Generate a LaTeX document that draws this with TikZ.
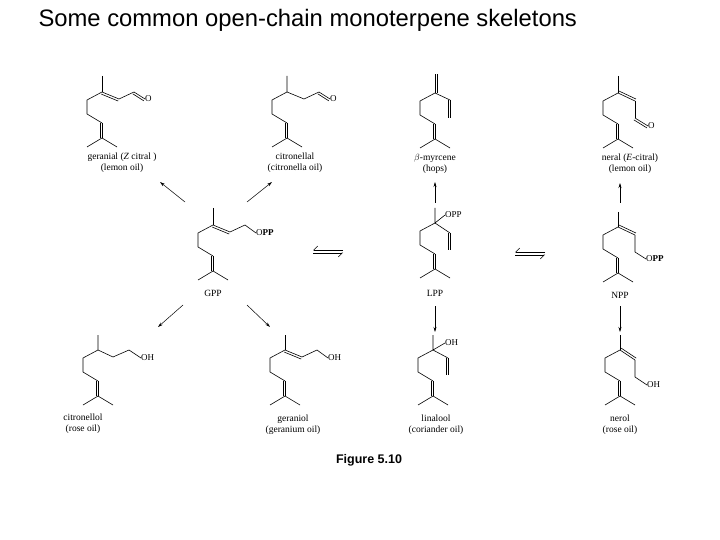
\documentclass[tikz,border=0pt]{standalone}
\usepackage{fontspec}
\setmainfont{Liberation Serif}
\setsansfont{Liberation Sans}
\usetikzlibrary{arrows.meta,calc}

\tikzset{
  bond/.style={line width=0.6pt},
  react/.style={line width=0.5pt, -{Stealth[length=5pt,width=3pt]}},
  harp/.style={line width=0.6pt, -{Straight Barb[harpoon,swap,length=4pt]}},
  lbl/.style={font=\fontsize{9.5}{11}\selectfont, align=center, inner sep=0pt},
  grp/.style={font=\fontsize{9}{10}\selectfont, inner sep=0pt, anchor=west},
}

% double bond between two named points
\newcommand{\dbl}[2]{%
  \draw[bond] (#1) -- (#2);
  \draw[bond] ($(#1)!2.2pt!-90:(#2)$) -- ($(#2)!2.2pt!90:(#1)$);
}

% common tail: C3 down to the isopropylidene end
\newcommand{\tail}[1]{%
  \coordinate (#1c3) at (0,0);
  \coordinate (#1c4) at (-15,8);
  \coordinate (#1c5) at (-15,22);
  \coordinate (#1c6) at (0,31);
  \coordinate (#1c7) at (0,46);
  \coordinate (#1m1) at (-15,55);
  \coordinate (#1m2) at (15,55);
  \draw[bond] (#1c3) -- (#1c4) -- (#1c5) -- (#1c6);
  \dbl{#1c6}{#1c7}
  \draw[bond] (#1m1) -- (#1c7) -- (#1m2);
}

\begin{document}
\begin{tikzpicture}[x=1pt,y=-1pt]
  \useasboundingbox (0,0) rectangle (720,540);
  \fill[white] (0,0) rectangle (720,540);

  \node[anchor=west, font=\sffamily\fontsize{23.8}{26}\selectfont] (title) at (35,20) {Some common open-chain monoterpene skeletons};

  % geranial
  \begin{scope}[shift={(102,92)}]
    \tail{gal}
    \coordinate (galme) at (0,-16);
    \coordinate (galc2) at (17,7);
    \coordinate (galc1) at (32,0);
    \coordinate (galo) at (43,7);
    \draw[bond] (galme) -- (galc3);
    \dbl{galc3}{galc2}
    \draw[bond] (galc2) -- (galc1);
    \dbl{galc1}{galo}
    \node[grp] (galO) at (galo) {O};
  \end{scope}
  \node[lbl] (galname) at (122,163) {geranial (\textit{Z} citral )\\(lemon oil)};

  % citronellal
  \begin{scope}[shift={(287,92)}]
    \tail{cal}
    \coordinate (calme) at (0,-16);
    \coordinate (calc2) at (17,7);
    \coordinate (calc1) at (32,0);
    \coordinate (calo) at (43,7);
    \draw[bond] (calme) -- (calc3) -- (calc2) -- (calc1);
    \dbl{calc1}{calo}
    \node[grp] (calO) at (calo) {O};
  \end{scope}
  \node[lbl] (calname) at (295,163) {citronellal\\(citronella oil)};

  % beta-myrcene
  \begin{scope}[shift={(435,93)}]
    \tail{myr}
    \coordinate (myrme) at (0,-19);
    \coordinate (myrc2) at (15,7);
    \coordinate (myrc1) at (15,25);
    \dbl{myrc3}{myrme}
    \draw[bond] (myrc3) -- (myrc2);
    \dbl{myrc2}{myrc1}
  \end{scope}
  \node[lbl] (myrname) at (435,164) {$\beta$-myrcene\\(hops)};

  % neral
  \begin{scope}[shift={(618,93)}]
    \tail{ner}
    \coordinate (nerme) at (0,-17);
    \coordinate (nerc2) at (17,8);
    \coordinate (nerc1) at (17,25);
    \coordinate (nero) at (30,33);
    \draw[bond] (nerme) -- (nerc3);
    \dbl{nerc2}{nerc3}
    \draw[bond] (nerc2) -- (nerc1);
    \dbl{nerc1}{nero}
    \node[grp] (nerO) at (nero) {O};
  \end{scope}
  \node[lbl] (nername) at (630,164) {neral (\textit{E}-citral)\\(lemon oil)};

  % GPP
  \begin{scope}[shift={(213,225)}]
    \tail{gpp}
    \coordinate (gppme) at (0,-17);
    \coordinate (gppc2) at (17,7);
    \coordinate (gppc1) at (32,0);
    \coordinate (gppo) at (43,8);
    \draw[bond] (gppme) -- (gppc3);
    \dbl{gppc3}{gppc2}
    \draw[bond] (gppc2) -- (gppc1) -- (gppo);
    \node[grp] (gppO) at (gppo) {O\textbf{PP}};
  \end{scope}
  \node[lbl] (gppname) at (213,293) {GPP};

  % LPP
  \begin{scope}[shift={(435,223)}]
    \tail{lpp}
    \coordinate (lppme) at (0,-15);
    \coordinate (lppo) at (10,-8);
    \coordinate (lppc2) at (15,10);
    \coordinate (lppc1) at (15,27);
    \draw[bond] (lppme) -- (lppc3) -- (lppo);
    \draw[bond] (lppc3) -- (lppc2);
    \dbl{lppc2}{lppc1}
    \node[grp] (lppO) at (lppo) {OPP};
  \end{scope}
  \node[lbl] (lppname) at (435,293) {LPP};

  % NPP
  \begin{scope}[shift={(618,227)}]
    \tail{npp}
    \coordinate (nppme) at (0,-15);
    \coordinate (nppc2) at (17,8);
    \coordinate (nppc1) at (17,25);
    \coordinate (nppo) at (28,32);
    \draw[bond] (nppme) -- (nppc3);
    \dbl{nppc2}{nppc3}
    \draw[bond] (nppc2) -- (nppc1) -- (nppo);
    \node[grp] (nppO) at (nppo) {O\textbf{PP}};
  \end{scope}
  \node[lbl] (nppname) at (620,295) {NPP};

  % citronellol
  \begin{scope}[shift={(98,350)}]
    \tail{col}
    \coordinate (colme) at (0,-15);
    \coordinate (colc2) at (15,7);
    \coordinate (colc1) at (31,0);
    \coordinate (colo) at (43,8);
    \draw[bond] (colme) -- (colc3) -- (colc2) -- (colc1) -- (colo);
    \node[grp] (colO) at (colo) {OH};
  \end{scope}
  \node[lbl] (colname) at (83,424) {citronellol\\(rose oil)};

  % geraniol
  \begin{scope}[shift={(285,350)}]
    \tail{gol}
    \coordinate (golme) at (0,-15);
    \coordinate (golc2) at (17,7);
    \coordinate (golc1) at (32,0);
    \coordinate (golo) at (43,8);
    \draw[bond] (golme) -- (golc3);
    \dbl{golc3}{golc2}
    \draw[bond] (golc2) -- (golc1) -- (golo);
    \node[grp] (golO) at (golo) {OH};
  \end{scope}
  \node[lbl] (golname) at (293,425) {geraniol\\(geranium oil)};

  % linalool
  \begin{scope}[shift={(433,350)}]
    \tail{lin}
    \coordinate (linme) at (0,-15);
    \coordinate (lino) at (12,-7);
    \coordinate (linc2) at (15,8);
    \coordinate (linc1) at (15,25);
    \draw[bond] (linme) -- (linc3) -- (lino);
    \draw[bond] (linc3) -- (linc2);
    \dbl{linc2}{linc1}
    \node[grp] (linO) at (lino) {OH};
  \end{scope}
  \node[lbl] (linname) at (436,425) {linalool\\(coriander oil)};

  % nerol
  \begin{scope}[shift={(620,350)}]
    \tail{nol}
    \coordinate (nolme) at (0,-15);
    \coordinate (nolc2) at (15,10);
    \coordinate (nolc1) at (15,27);
    \coordinate (nolo) at (27,35);
    \draw[bond] (nolme) -- (nolc3);
    \dbl{nolc2}{nolc3}
    \draw[bond] (nolc2) -- (nolc1) -- (nolo);
    \node[grp] (nolO) at (nolo) {OH};
  \end{scope}
  \node[lbl] (nolname) at (620,425) {nerol\\(rose oil)};

  \node[font=\sffamily\bfseries\fontsize{12.5}{14}\selectfont] (fig) at (369,460) {Figure 5.10};

  % reaction arrows
  \coordinate (a1s) at (185,202); \coordinate (a1e) at (160,182);
  \coordinate (a2s) at (247,202); \coordinate (a2e) at (272,182);
  \coordinate (a3s) at (435,203); \coordinate (a3e) at (435,182);
  \coordinate (a4s) at (620,203); \coordinate (a4e) at (620,183);
  \coordinate (a5s) at (183,305); \coordinate (a5e) at (158,327);
  \coordinate (a6s) at (247,305); \coordinate (a6e) at (270,327);
  \coordinate (a7s) at (435,306); \coordinate (a7e) at (435,332);
  \coordinate (a8s) at (620,306); \coordinate (a8e) at (620,332);
  \foreach \i in {1,...,8}
    \draw[react] (a\i s) -- (a\i e);

  % equilibria
  \coordinate (e1a) at (313,253); \coordinate (e1b) at (343,253);
  \coordinate (e2a) at (515,255); \coordinate (e2b) at (545,255);
  \draw[harp] (e1a) -- (e1b);
  \draw[harp] ([yshift=3]e1b) -- ([yshift=3]e1a);
  \draw[harp] (e2a) -- (e2b);
  \draw[harp] ([yshift=3]e2b) -- ([yshift=3]e2a);
\end{tikzpicture}
\end{document}
